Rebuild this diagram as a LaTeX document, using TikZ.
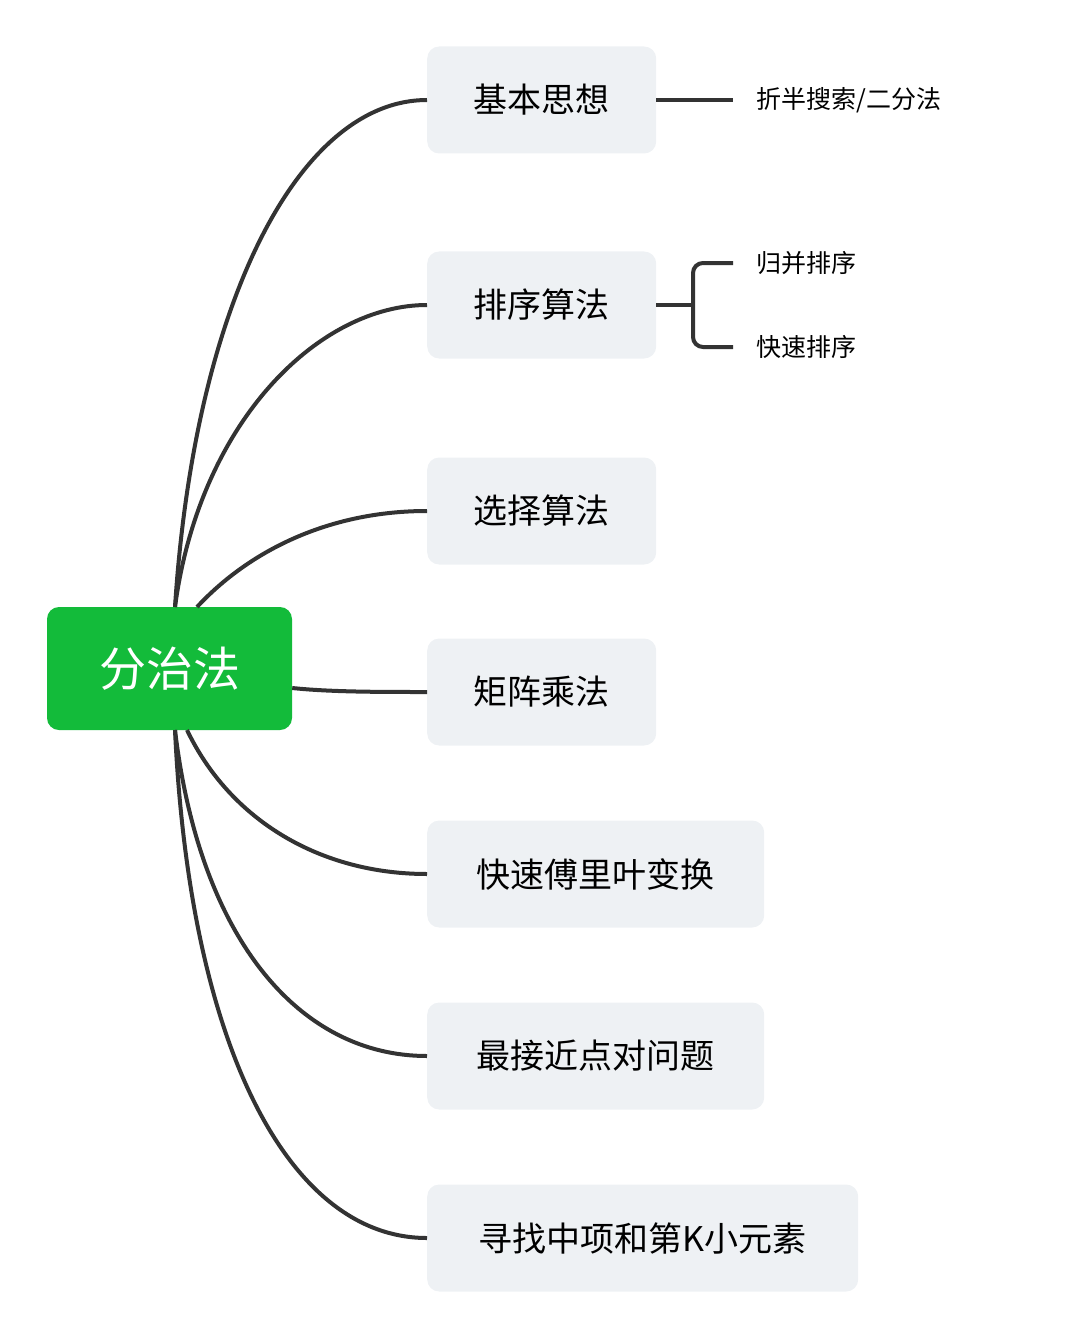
\documentclass[tikz,border=0pt]{standalone}
\usepackage{fontspec}
\setmainfont{Noto Sans CJK SC}
\begin{document}
\begin{tikzpicture}[x=1pt,y=-1pt,
 box/.style={fill=boxc,rounded corners=12pt,anchor=west,minimum height=107pt,inner sep=0pt,text=black},
 con/.style={draw=linec,line width=4pt},
 big/.style={font=\fontsize{34}{40}\selectfont},
 small/.style={font=\fontsize{25}{30}\selectfont,anchor=west,text=black}]
\definecolor{boxc}{HTML}{EEF1F4}
\definecolor{rootc}{HTML}{13BB3A}
\definecolor{linec}{HTML}{333333}
\useasboundingbox (0,0) rectangle (1078,1340);
\node[fill=rootc,rounded corners=12pt,minimum width=245pt,minimum height=123pt,text=white,font=\fontsize{47}{54}\selectfont] (root) at (169.5,668.5) {分治法};
\node[box,minimum width=229pt,big] (a) at (427,100) {基本思想};
\node[box,minimum width=229pt,big] (b) at (427,305) {排序算法};
\node[box,minimum width=229pt,big] (c) at (427,511) {选择算法};
\node[box,minimum width=229pt,big] (d) at (427,692) {矩阵乘法};
\node[box,minimum width=337pt,big] (e) at (427,874) {快速傅里叶变换};
\node[box,minimum width=337pt,big] (f) at (427,1056) {最接近点对问题};
\node[box,minimum width=431pt,big] (g) at (427,1238) {寻找中项和第K小元素};
\coordinate (rt) at (175,607);
\coordinate (rt2) at (197,607);
\coordinate (rb) at (175,730);
\coordinate (rb2) at (187,730);
\draw[con] (rt) .. controls (195,300) and (300,100) .. (a.west);
\draw[con] (rt) .. controls (200,420) and (320,305) .. (b.west);
\draw[con] (rt2) .. controls (250,550) and (330,511) .. (c.west);
\draw[con] (root.east |- 0,688) .. controls (330,692) and (380,692) .. (d.west);
\draw[con] (rb2) .. controls (230,820) and (320,874) .. (e.west);
\draw[con] (rb) .. controls (200,940) and (300,1056) .. (f.west);
\draw[con] (rb) .. controls (190,1050) and (290,1238) .. (g.west);
% sub items
\coordinate (a1) at (733,100);
\node[small] (at) at (753,100) {折半搜索/二分法};
\draw[con] (a.east) -- (a1);
\coordinate (bm) at (693,305);
\coordinate (bu) at (733,263);
\coordinate (bd) at (733,347);
\node[small] (bt) at (753,263) {归并排序};
\node[small] (bt2) at (753,347) {快速排序};
\draw[con] (b.east) -- (bm);
\draw[con,rounded corners=10pt] (bu) -| (bm) |- (bd);
\end{tikzpicture}
\end{document}
